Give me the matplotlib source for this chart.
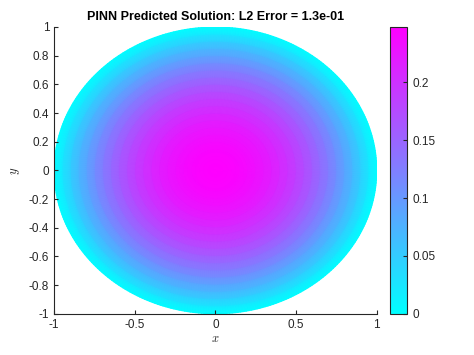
import numpy as np
import matplotlib
matplotlib.use("Agg")
import matplotlib.pyplot as plt

# radial profile of the predicted solution
r_vals = [0.0, 0.05, 0.1, 0.15, 0.2, 0.25, 0.3, 0.35, 0.4, 0.45, 0.5,
          0.55, 0.6, 0.65, 0.7, 0.75, 0.8, 0.85, 0.9, 0.95, 1.0]
u_vals = [0.248, 0.247, 0.245, 0.242, 0.238, 0.232, 0.226, 0.218, 0.208, 0.198, 0.186,
          0.173, 0.159, 0.143, 0.127, 0.109, 0.089, 0.069, 0.047, 0.024, 0.0]
xticks = [-1, -0.5, 0, 0.5, 1]
yticks = [-1, -0.8, -0.6, -0.4, -0.2, 0, 0.2, 0.4, 0.6, 0.8, 1]
cticks = [0, 0.05, 0.1, 0.15, 0.2]
title = "PINN Predicted Solution: L2 Error = 1.3e-01"

plt.rcParams['font.family'] = ['Liberation Sans', 'DejaVu Sans']
plt.rcParams['mathtext.fontset'] = 'cm'
ink = '#262626'

# structured polar grid, one row per ring
th = np.linspace(0, 2*np.pi, 361)
R, TH = np.meshgrid(r_vals, th, indexing='ij')
X, Y = R*np.cos(TH), R*np.sin(TH)
U = np.repeat(np.array(u_vals)[:, None], len(th), axis=1)

fig = plt.figure(figsize=(4.74, 3.55), dpi=100)
ax = fig.add_axes([0.114, 0.116, 0.681, 0.808])
cax = fig.add_axes([0.823, 0.116, 0.036, 0.808])

pm = ax.pcolormesh(X, Y, U, shading='gouraud', cmap='cool', vmin=0, vmax=0.248)
ax.set_xlim(-1, 1); ax.set_ylim(-1, 1)
ax.set_xticks(xticks); ax.set_yticks(yticks)
ax.set_xticklabels([f"{v:g}" for v in xticks])
ax.set_yticklabels([f"{v:g}" for v in yticks])
for s in ['top', 'right']:
    ax.spines[s].set_visible(False)
for s in ['left', 'bottom']:
    ax.spines[s].set_color(ink); ax.spines[s].set_linewidth(0.8)
ax.tick_params(direction='in', length=3, colors=ink, labelsize=8.5, width=0.8)
ax.set_xlabel('$x$', fontsize=9, color=ink, labelpad=2)
ax.set_ylabel('$y$', fontsize=9, color=ink, labelpad=5)
ax.set_title(title, fontsize=9, fontweight='bold', color='black', pad=5)

cb = fig.colorbar(pm, cax=cax, ticks=cticks)
cb.ax.set_yticklabels([f"{v:g}" for v in cticks])
cb.ax.tick_params(direction='in', length=3, colors=ink, labelsize=8.5, width=0.8)
cb.outline.set_edgecolor(ink); cb.outline.set_linewidth(0.8)

fig.savefig("out.png", dpi=100)
